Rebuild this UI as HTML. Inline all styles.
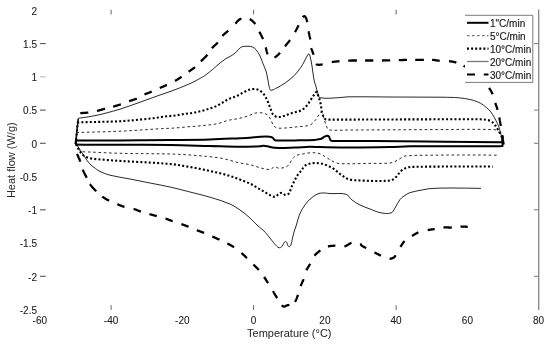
<!DOCTYPE html>
<html><head><meta charset="utf-8"><title>DSC heat flow</title>
<style>html,body{margin:0;padding:0;background:#fff;}body{width:550px;height:345px;overflow:hidden;}svg{display:block;}</style>
</head><body>
<svg width="550" height="345" viewBox="0 0 550 345">
<rect width="550" height="345" fill="#fff"/>
<path d="M75.70 144.00 C76.57 135.43 77.43 126.87 78.30 118.30 C82.20 117.73 86.12 117.26 90.00 116.60 C93.35 116.03 96.69 115.36 100.00 114.60 C103.36 113.83 106.67 112.90 110.00 112.00 C113.34 111.10 116.69 110.22 120.00 109.20 C123.36 108.16 126.68 106.96 130.00 105.80 C133.34 104.63 136.67 103.40 140.00 102.20 C143.33 101.00 146.67 99.80 150.00 98.60 C153.33 97.40 156.66 96.17 160.00 95.00 C163.32 93.84 166.69 92.79 170.00 91.60 C173.36 90.39 176.69 89.12 180.00 87.80 C183.36 86.46 186.69 85.06 190.00 83.60 C191.69 82.86 193.36 82.05 195.00 81.20 C196.69 80.32 198.34 79.35 200.00 78.40 C201.67 77.45 203.44 76.62 205.00 75.50 C207.95 73.38 210.72 71.03 213.50 68.70 C215.85 66.73 218.02 64.53 220.40 62.60 C222.09 61.23 223.86 59.96 225.70 58.80 C227.37 57.75 229.22 57.03 230.90 56.00 C232.39 55.09 233.88 54.15 235.20 53.00 C236.50 51.87 237.45 50.39 238.70 49.20 C239.56 48.38 240.42 47.50 241.50 47.00 C242.58 46.50 243.82 46.41 245.00 46.30 C246.33 46.18 247.67 46.18 249.00 46.30 C250.18 46.41 251.42 46.49 252.50 47.00 C253.81 47.62 255.07 48.48 256.00 49.60 C257.61 51.53 258.88 53.75 260.00 56.00 C261.26 58.53 262.06 61.27 263.10 63.90 C264.16 66.60 265.47 69.22 266.30 72.00 C267.07 74.57 267.38 77.26 267.90 79.90 C268.42 82.53 268.70 85.21 269.40 87.80 C269.64 88.68 269.80 90.08 270.70 90.20 C272.37 90.42 273.99 89.35 275.50 88.60 C278.81 86.94 282.07 85.13 285.10 83.00 C288.49 80.62 291.77 78.03 294.70 75.10 C297.10 72.70 299.04 69.87 301.00 67.10 C302.14 65.49 303.05 63.73 304.00 62.00 C305.38 59.49 306.48 56.83 308.00 54.40 C308.19 54.10 308.72 53.78 309.00 54.00 C309.58 54.47 309.82 55.28 310.00 56.00 C310.82 59.30 311.44 62.65 312.00 66.00 C312.77 70.65 313.12 75.37 314.00 80.00 C314.39 82.05 315.22 83.99 315.80 86.00 C316.48 88.36 316.99 90.78 317.80 93.10 C318.36 94.69 318.25 97.37 319.90 97.70 C326.47 99.03 333.30 97.81 340.00 97.60 C342.68 97.51 345.32 96.83 348.00 96.80 C362.00 96.63 376.00 96.94 390.00 97.00 C406.67 97.07 423.33 97.07 440.00 97.20 C444.83 97.24 449.67 97.25 454.50 97.50 C457.91 97.68 461.32 97.98 464.70 98.50 C467.63 98.95 470.56 99.55 473.40 100.40 C475.91 101.15 478.41 102.04 480.70 103.30 C482.81 104.46 484.67 106.04 486.50 107.60 C488.08 108.95 489.62 110.37 490.90 112.00 C492.30 113.79 493.37 115.82 494.50 117.80 C495.58 119.69 496.62 121.61 497.50 123.60 C498.33 125.48 498.97 127.44 499.60 129.40 C500.24 131.41 500.76 133.46 501.30 135.50 C501.69 136.99 502.08 138.49 502.40 140.00 C502.65 141.16 502.80 142.33 503.00 143.50" fill="none" stroke="#111" stroke-width="0.9" stroke-linejoin="round"/>
<path d="M76.00 144.00 C76.40 144.37 76.90 144.65 77.20 145.10 C78.31 146.73 79.14 148.53 80.20 150.20 C81.51 152.27 82.91 154.28 84.30 156.30 C85.94 158.68 87.35 161.26 89.30 163.40 C91.08 165.36 93.29 166.90 95.40 168.50 C96.86 169.60 98.34 170.74 100.00 171.50 C103.23 172.98 106.55 174.34 110.00 175.20 C116.58 176.85 123.34 177.70 130.00 179.00 C136.67 180.30 143.33 181.67 150.00 183.00 C156.67 184.33 163.37 185.51 170.00 187.00 C176.70 188.51 183.34 190.30 190.00 192.00 C196.67 193.70 203.40 195.22 210.00 197.20 C216.74 199.22 223.52 201.24 230.00 204.00 C233.58 205.53 236.82 207.77 240.00 210.00 C243.50 212.45 246.81 215.16 250.00 218.00 C252.82 220.51 255.23 223.44 258.00 226.00 C259.57 227.45 261.45 228.53 263.00 230.00 C264.83 231.74 266.48 233.66 268.10 235.60 C269.88 237.73 271.45 240.04 273.20 242.20 C274.32 243.58 275.39 245.00 276.70 246.20 C277.45 246.89 278.29 247.70 279.30 247.80 C280.21 247.89 281.16 247.35 281.80 246.70 C282.74 245.74 283.04 244.31 283.80 243.20 C284.25 242.54 284.61 241.53 285.40 241.40 C286.05 241.29 286.57 242.13 286.90 242.70 C287.43 243.61 287.34 244.81 287.90 245.70 C288.22 246.21 288.81 246.80 289.40 246.70 C290.10 246.58 290.66 245.87 290.90 245.20 C291.72 242.92 291.95 240.46 292.50 238.10 C292.98 236.06 293.40 234.01 294.00 232.00 C294.70 229.64 295.66 227.35 296.40 225.00 C297.43 221.72 298.08 218.31 299.30 215.10 C300.22 212.69 301.46 210.40 302.80 208.20 C304.17 205.96 305.65 203.76 307.40 201.80 C309.13 199.87 311.10 198.12 313.20 196.60 C314.99 195.30 316.89 194.05 319.00 193.40 C320.85 192.83 322.86 192.96 324.80 193.00 C326.54 193.03 328.26 193.50 330.00 193.60 C335.33 193.90 340.88 192.71 346.00 194.20 C348.67 194.98 349.80 198.30 352.00 200.00 C354.49 201.92 357.19 203.59 360.00 205.00 C363.21 206.61 366.64 207.72 370.00 209.00 C373.31 210.26 376.52 211.94 380.00 212.60 C383.60 213.29 387.49 214.08 391.00 213.00 C393.04 212.37 393.82 209.78 395.00 208.00 C396.82 205.26 398.03 202.13 400.00 199.50 C401.06 198.08 402.54 197.01 404.00 196.00 C405.89 194.69 407.82 193.33 410.00 192.60 C413.88 191.31 417.99 190.80 422.00 190.00 C424.65 189.47 427.30 188.79 430.00 188.60 C436.65 188.12 443.33 188.03 450.00 188.00 C460.33 187.96 470.67 188.27 481.00 188.40" fill="none" stroke="#111" stroke-width="0.9" stroke-linejoin="round"/>
<path d="M75.70 144.00 C76.23 140.17 76.77 136.33 77.30 132.50 C91.53 132.07 105.77 131.81 120.00 131.20 C130.01 130.77 140.00 130.02 150.00 129.40 C153.87 129.16 157.73 128.81 161.60 128.60 C165.00 128.41 168.40 128.40 171.80 128.20 C175.20 128.00 178.60 127.70 182.00 127.40 C183.94 127.23 185.86 126.97 187.80 126.80 C192.46 126.40 197.15 126.20 201.80 125.70 C207.15 125.13 212.53 124.67 217.80 123.60 C221.29 122.89 224.54 121.25 228.00 120.40 C231.35 119.58 234.81 119.27 238.20 118.60 C240.02 118.24 241.82 117.81 243.60 117.30 C245.46 116.77 247.29 116.16 249.10 115.50 C250.92 114.83 252.62 113.81 254.50 113.30 C256.12 112.86 257.82 112.68 259.50 112.70 C261.18 112.72 262.90 112.88 264.50 113.40 C265.85 113.83 267.21 114.48 268.20 115.50 C269.42 116.76 270.09 118.45 270.90 120.00 C271.75 121.62 272.22 123.45 273.20 125.00 C273.78 125.92 274.59 126.72 275.50 127.30 C276.30 127.81 277.25 128.17 278.20 128.20 C281.80 128.31 285.41 127.98 289.00 127.70 C292.68 127.41 296.33 126.84 300.00 126.50 C301.66 126.34 303.36 126.52 305.00 126.20 C307.12 125.78 309.33 125.39 311.20 124.30 C312.87 123.33 314.07 121.69 315.30 120.20 C316.61 118.61 317.55 116.74 318.80 115.10 C319.59 114.07 320.29 111.53 321.40 112.20 C323.25 113.33 323.17 116.16 323.90 118.20 C324.50 119.87 324.83 121.62 325.40 123.30 C325.86 124.66 326.39 126.00 327.00 127.30 C327.43 128.21 327.51 129.78 328.50 129.90 C335.62 130.74 342.83 130.02 350.00 130.00 C380.00 129.92 410.00 129.66 440.00 129.60 C458.33 129.56 476.68 128.95 495.00 129.70 C496.42 129.76 497.64 130.95 498.60 132.00 C499.83 133.35 500.72 135.01 501.40 136.70 C502.07 138.38 502.20 140.23 502.60 142.00" fill="none" stroke="#111" stroke-width="0.9" stroke-dasharray="2.6 2.7"/>
<path d="M76.00 144.00 C76.67 145.50 76.97 147.22 78.00 148.50 C79.04 149.80 80.40 151.03 82.00 151.50 C84.56 152.25 87.33 151.87 90.00 152.00 C100.00 152.47 109.99 153.05 120.00 153.30 C136.66 153.72 153.34 153.60 170.00 154.00 C176.67 154.16 183.35 154.47 190.00 155.00 C200.02 155.80 210.08 156.41 220.00 158.00 C226.79 159.09 233.29 161.50 240.00 163.00 C243.30 163.74 246.71 163.92 250.00 164.70 C253.09 165.43 256.05 166.62 259.10 167.50 C260.79 167.99 262.48 168.46 264.20 168.80 C265.88 169.13 267.59 169.61 269.30 169.50 C270.37 169.43 271.36 168.83 272.30 168.30 C273.04 167.88 273.45 166.73 274.30 166.70 C275.74 166.65 276.96 167.99 278.40 168.10 C280.44 168.26 282.53 168.06 284.50 167.50 C286.01 167.07 287.52 166.33 288.60 165.20 C289.97 163.78 290.52 161.75 291.60 160.10 C292.19 159.21 292.82 158.33 293.60 157.60 C294.54 156.72 295.51 155.79 296.70 155.30 C298.44 154.59 300.36 154.45 302.20 154.10 C304.79 153.61 307.37 152.95 310.00 152.80 C312.67 152.65 315.37 152.73 318.00 153.20 C319.56 153.48 320.99 154.28 322.40 155.00 C323.80 155.72 325.05 156.69 326.40 157.50 C328.92 159.02 331.31 160.80 334.00 162.00 C335.89 162.85 337.93 163.52 340.00 163.60 C349.99 163.99 360.00 163.52 370.00 163.40 C376.67 163.32 383.36 163.61 390.00 163.00 C392.10 162.81 394.08 161.87 396.00 161.00 C397.77 160.20 399.30 158.94 401.00 158.00 C402.30 157.28 403.52 156.14 405.00 156.00 C413.30 155.20 421.66 155.31 430.00 155.20 C446.67 154.98 463.33 155.00 480.00 155.00 C486.33 155.00 492.67 155.13 499.00 155.20" fill="none" stroke="#111" stroke-width="0.9" stroke-dasharray="2.6 2.7"/>
<path d="M75.70 144.00 C76.40 136.83 77.10 129.67 77.80 122.50 C78.53 122.43 79.26 122.32 80.00 122.30 C93.33 121.89 106.68 121.91 120.00 121.20 C130.39 120.64 140.75 119.56 151.10 118.50 C155.35 118.06 159.56 117.23 163.80 116.70 C167.79 116.20 171.81 115.94 175.80 115.40 C178.72 115.01 181.59 114.34 184.50 113.90 C187.29 113.48 190.12 113.28 192.90 112.80 C195.59 112.34 198.25 111.75 200.90 111.10 C203.66 110.42 206.41 109.69 209.10 108.80 C211.74 107.92 214.39 107.00 216.90 105.80 C219.43 104.59 221.78 103.02 224.20 101.60 C225.31 100.95 226.36 100.19 227.50 99.60 C228.80 98.92 230.14 98.33 231.50 97.80 C232.81 97.29 234.19 97.01 235.50 96.50 C236.76 96.01 238.00 95.43 239.20 94.80 C240.43 94.16 241.58 93.37 242.80 92.70 C244.02 92.03 245.24 91.37 246.50 90.80 C247.67 90.27 248.84 89.67 250.10 89.40 C251.54 89.09 253.03 89.01 254.50 89.10 C255.86 89.18 257.24 89.39 258.50 89.90 C259.68 90.38 260.74 91.15 261.70 92.00 C262.80 92.97 263.82 94.06 264.60 95.30 C265.93 97.42 267.00 99.70 268.00 102.00 C269.14 104.61 269.84 107.40 271.00 110.00 C271.85 111.91 272.35 114.22 274.00 115.50 C275.63 116.77 277.96 117.28 280.00 117.00 C284.18 116.42 287.98 114.26 292.00 113.00 C294.98 112.06 298.18 111.73 301.00 110.40 C303.00 109.46 304.71 107.93 306.20 106.30 C308.15 104.16 309.56 101.58 311.20 99.20 C312.59 97.18 313.80 95.03 315.30 93.10 C315.68 92.61 316.37 91.55 316.80 92.00 C317.83 93.07 317.80 94.80 318.30 96.20 C318.83 97.70 319.46 99.17 319.90 100.70 C320.33 102.21 320.62 103.76 320.90 105.30 C321.29 107.49 321.41 109.73 321.90 111.90 C322.25 113.44 322.72 114.97 323.40 116.40 C323.90 117.43 324.37 118.70 325.40 119.20 C326.78 119.87 328.46 119.60 330.00 119.60 C366.67 119.63 403.33 119.37 440.00 119.30 C453.33 119.27 466.67 119.13 480.00 119.30 C482.34 119.33 484.70 119.44 487.00 119.90 C488.60 120.22 490.22 120.72 491.60 121.60 C492.95 122.46 494.04 123.72 495.00 125.00 C496.39 126.84 497.40 128.93 498.60 130.90 C499.53 132.43 500.79 133.81 501.40 135.50 C502.15 137.57 502.20 139.83 502.60 142.00" fill="none" stroke="#000" stroke-width="2.1" stroke-dasharray="2 2.2"/>
<path d="M76.00 144.00 C77.00 146.00 77.79 148.12 79.00 150.00 C80.23 151.91 81.56 153.84 83.30 155.30 C84.73 156.50 86.54 157.19 88.30 157.80 C89.94 158.37 91.69 158.55 93.40 158.80 C95.09 159.05 96.80 159.15 98.50 159.30 C100.87 159.51 103.23 159.72 105.60 159.90 C110.33 160.26 115.06 160.60 119.80 160.90 C136.53 161.97 153.30 162.55 170.00 164.00 C176.72 164.58 183.36 165.84 190.00 167.00 C196.70 168.17 203.37 169.51 210.00 171.00 C216.70 172.51 223.45 173.94 230.00 176.00 C236.80 178.14 243.45 180.77 250.00 183.60 C252.51 184.68 254.73 186.35 257.10 187.70 C259.46 189.05 261.84 190.35 264.20 191.70 C266.57 193.05 268.81 194.67 271.30 195.80 C272.58 196.38 274.02 197.09 275.40 196.80 C276.67 196.53 277.29 194.97 278.40 194.30 C279.51 193.63 280.71 192.67 282.00 192.80 C283.37 192.94 284.13 194.90 285.50 195.00 C286.82 195.09 288.18 194.26 289.10 193.30 C290.00 192.36 290.12 190.91 290.60 189.70 C291.12 188.38 291.54 187.01 292.10 185.70 C292.70 184.30 293.39 182.95 294.10 181.60 C295.26 179.38 296.35 177.11 297.70 175.00 C298.56 173.66 299.69 172.52 300.70 171.30 C302.45 169.19 303.59 166.31 306.00 165.00 C308.99 163.38 312.60 163.00 316.00 163.00 C319.40 163.00 322.78 163.93 326.00 165.00 C328.83 165.94 331.49 167.39 334.00 169.00 C336.19 170.41 337.88 172.49 340.00 174.00 C342.56 175.83 345.07 177.85 348.00 179.00 C350.51 179.99 353.30 180.20 356.00 180.30 C367.33 180.73 378.70 181.53 390.00 180.60 C392.32 180.41 394.24 178.53 396.00 177.00 C397.96 175.29 399.06 172.74 401.00 171.00 C402.44 169.70 404.18 168.68 406.00 168.00 C407.91 167.29 409.97 166.94 412.00 166.90 C434.66 166.44 457.33 166.58 480.00 166.50 C484.27 166.48 488.53 166.57 492.80 166.60" fill="none" stroke="#000" stroke-width="2.1" stroke-dasharray="2 2.2"/>
<path d="M80.30 113.18 L80.30 113.18 L80.60 113.15 L80.90 113.13 L81.20 113.11 L81.50 113.08 L81.80 113.06 L82.10 113.04 L82.40 113.02 L82.70 113.00 L83.00 112.98 L83.30 112.96 L83.60 112.94 L83.91 112.92 L84.21 112.90 L84.51 112.88 L84.81 112.85 L85.11 112.83 L85.41 112.81 L85.71 112.78 L86.01 112.75 L86.31 112.73 L86.61 112.70 L86.91 112.67 L87.20 112.63 L87.50 112.60 L87.80 112.56 L88.10 112.53 L88.30 112.50 M97.00 110.90 L97.00 110.90 L97.30 110.83 L97.59 110.76 L97.89 110.69 L98.18 110.62 L98.47 110.54 L98.77 110.46 L99.06 110.38 L99.35 110.30 L99.65 110.22 L99.94 110.14 L100.23 110.06 L100.52 109.98 L100.81 109.89 L101.11 109.81 L101.40 109.72 L101.69 109.64 L101.98 109.55 L102.27 109.47 L102.56 109.38 L102.86 109.30 L103.15 109.21 L103.44 109.13 L103.73 109.05 L104.02 108.97 L104.32 108.89 L104.61 108.80 L104.90 108.73 L105.00 108.70 M113.20 106.60 L113.20 106.60 L113.49 106.52 L113.78 106.44 L114.07 106.36 L114.36 106.28 L114.65 106.20 L114.94 106.11 L115.23 106.03 L115.52 105.95 L115.81 105.87 L116.10 105.79 L116.39 105.70 L116.68 105.62 L116.97 105.53 L117.26 105.45 L117.55 105.36 L117.84 105.28 L118.13 105.19 L118.41 105.10 L118.70 105.01 L118.99 104.92 L119.28 104.83 L119.56 104.74 L119.85 104.65 L120.14 104.55 L120.42 104.46 L120.71 104.36 L120.90 104.30 M129.10 101.20 L129.10 101.20 L129.38 101.10 L129.67 101.00 L129.95 100.90 L130.24 100.80 L130.53 100.70 L130.81 100.61 L131.10 100.51 L131.39 100.42 L131.68 100.33 L131.97 100.23 L132.25 100.14 L132.54 100.05 L132.83 99.95 L133.12 99.86 L133.40 99.77 L133.69 99.67 L133.98 99.57 L134.26 99.48 L134.55 99.38 L134.83 99.27 L135.12 99.17 L135.40 99.07 L135.68 98.96 L135.96 98.85 L136.24 98.73 L136.52 98.62 L136.80 98.50 L136.80 98.50 M144.50 94.50 L144.50 94.50 L144.77 94.37 L145.05 94.25 L145.32 94.13 L145.60 94.02 L145.88 93.90 L146.16 93.79 L146.44 93.68 L146.72 93.57 L147.00 93.46 L147.29 93.36 L147.57 93.25 L147.85 93.14 L148.13 93.04 L148.41 92.93 L148.70 92.82 L148.98 92.72 L149.26 92.61 L149.54 92.49 L149.81 92.38 L150.09 92.26 L150.37 92.14 L150.64 92.03 L150.92 91.91 L151.20 91.79 L151.47 91.67 L151.75 91.55 L151.75 91.55 M159.80 88.00 L159.80 88.00 L160.08 87.88 L160.35 87.76 L160.63 87.64 L160.91 87.52 L161.19 87.40 L161.46 87.28 L161.74 87.16 L162.02 87.04 L162.30 86.93 L162.57 86.81 L162.85 86.69 L163.13 86.57 L163.41 86.45 L163.68 86.33 L163.96 86.21 L164.24 86.09 L164.51 85.97 L164.79 85.85 L165.07 85.73 L165.34 85.61 L165.62 85.49 L165.89 85.36 L166.17 85.24 L166.44 85.11 L166.72 84.98 L166.90 84.90 M175.00 80.90 L175.00 80.90 L175.26 80.75 L175.53 80.61 L175.79 80.46 L176.05 80.31 L176.32 80.15 L176.58 80.00 L176.84 79.85 L177.10 79.69 L177.36 79.53 L177.62 79.38 L177.87 79.22 L178.13 79.06 L178.39 78.90 L178.65 78.74 L178.90 78.58 L179.16 78.41 L179.41 78.25 L179.67 78.08 L179.92 77.92 L180.17 77.75 L180.43 77.59 L180.68 77.42 L180.93 77.25 L181.18 77.08 L181.43 76.91 L181.60 76.80 M188.60 71.70 L188.60 71.70 L188.85 71.52 L189.09 71.35 L189.34 71.18 L189.59 71.01 L189.84 70.83 L190.09 70.66 L190.34 70.50 L190.59 70.33 L190.84 70.16 L191.09 69.99 L191.34 69.82 L191.59 69.65 L191.84 69.48 L192.09 69.31 L192.33 69.14 L192.58 68.97 L192.83 68.79 L193.07 68.62 L193.32 68.44 L193.56 68.26 L193.80 68.08 L194.04 67.89 L194.28 67.71 L194.51 67.52 L194.75 67.33 L194.90 67.20 M200.90 61.30 L200.90 61.30 L201.12 61.09 L201.33 60.88 L201.55 60.66 L201.77 60.45 L201.99 60.24 L202.21 60.03 L202.43 59.82 L202.65 59.62 L202.87 59.41 L203.09 59.20 L203.31 58.99 L203.53 58.78 L203.75 58.57 L203.97 58.36 L204.19 58.15 L204.41 57.94 L204.62 57.73 L204.84 57.52 L205.06 57.31 L205.27 57.09 L205.48 56.88 L205.70 56.66 L205.91 56.44 L206.12 56.23 L206.32 56.01 L206.53 55.78 L206.73 55.56 L206.94 55.33 L207.14 55.11 L207.33 54.88 L207.40 54.80 M211.90 48.30 L211.90 48.30 L212.10 48.07 L212.30 47.85 L212.50 47.62 L212.71 47.40 L212.91 47.19 L213.13 46.97 L213.34 46.76 L213.56 46.55 L213.78 46.34 L214.00 46.13 L214.22 45.93 L214.44 45.72 L214.66 45.52 L214.88 45.31 L215.11 45.11 L215.33 44.90 L215.55 44.70 L215.77 44.49 L215.99 44.28 L216.21 44.08 L216.43 43.86 L216.64 43.65 L216.85 43.44 L217.06 43.22 L217.27 43.00 L217.47 42.78 L217.67 42.55 L217.80 42.40 M222.40 35.90 L222.40 35.90 L222.60 35.68 L222.81 35.45 L223.02 35.24 L223.24 35.02 L223.46 34.81 L223.68 34.61 L223.90 34.40 L224.13 34.20 L224.35 34.00 L224.58 33.80 L224.82 33.60 L225.05 33.41 L225.28 33.21 L225.52 33.02 L225.75 32.82 L225.98 32.63 L226.22 32.43 L226.45 32.24 L226.69 32.04 L226.92 31.85 L227.15 31.65 L227.38 31.45 L227.60 31.25 L227.83 31.05 L228.05 30.84 L228.20 30.70 M235.30 23.60 L235.30 23.60 L235.51 23.39 L235.72 23.17 L235.93 22.95 L236.13 22.72 L236.34 22.49 L236.54 22.26 L236.74 22.03 L236.94 21.81 L237.15 21.58 L237.35 21.35 L237.56 21.13 L237.77 20.91 L237.98 20.70 L238.20 20.49 L238.42 20.29 L238.65 20.09 L238.88 19.90 L239.12 19.73 L239.37 19.56 L239.63 19.40 L239.89 19.25 L240.16 19.12 L240.44 19.00 L240.73 18.89 L241.02 18.79 L241.31 18.71 L241.41 18.68 M249.80 19.10 L249.80 19.10 L250.06 19.25 L250.32 19.41 L250.57 19.57 L250.83 19.74 L251.07 19.91 L251.32 20.09 L251.56 20.27 L251.80 20.46 L252.04 20.65 L252.27 20.84 L252.50 21.04 L252.72 21.25 L252.95 21.45 L253.17 21.66 L253.38 21.88 L253.60 22.10 L253.81 22.32 L254.01 22.54 L254.21 22.77 L254.41 23.00 L254.61 23.23 L254.80 23.47 L254.99 23.70 L255.18 23.94 L255.30 24.10 M259.40 31.80 L259.40 31.80 L259.54 32.07 L259.68 32.34 L259.82 32.60 L259.96 32.87 L260.10 33.14 L260.24 33.41 L260.38 33.67 L260.52 33.94 L260.66 34.21 L260.80 34.47 L260.94 34.74 L261.07 35.01 L261.21 35.28 L261.35 35.55 L261.49 35.82 L261.62 36.09 L261.76 36.36 L261.89 36.63 L262.02 36.90 L262.15 37.17 L262.28 37.44 L262.40 37.72 L262.53 37.99 L262.65 38.27 L262.77 38.54 L262.89 38.82 L263.00 39.10 L263.00 39.10 M265.70 47.30 L265.70 47.30 L265.79 47.59 L265.87 47.88 L265.95 48.18 L266.02 48.47 L266.10 48.76 L266.17 49.06 L266.24 49.36 L266.31 49.65 L266.38 49.95 L266.44 50.25 L266.51 50.54 L266.58 50.84 L266.65 51.14 L266.72 51.43 L266.80 51.73 L266.88 52.02 L266.96 52.31 L267.04 52.60 L267.13 52.89 L267.23 53.18 L267.32 53.46 L267.43 53.75 L267.54 54.03 L267.66 54.31 L267.70 54.40 M274.40 57.60 L274.40 57.60 L274.66 57.45 L274.92 57.30 L275.18 57.13 L275.43 56.97 L275.68 56.80 L275.93 56.62 L276.17 56.44 L276.41 56.25 L276.64 56.06 L276.88 55.86 L277.11 55.66 L277.34 55.46 L277.56 55.26 L277.79 55.05 L278.01 54.84 L278.23 54.62 L278.45 54.41 L278.66 54.19 L278.88 53.97 L279.09 53.75 L279.30 53.53 L279.51 53.31 L279.72 53.09 L279.93 52.87 L280.00 52.80 M285.00 46.40 L285.00 46.40 L285.19 46.16 L285.37 45.93 L285.56 45.69 L285.75 45.46 L285.94 45.22 L286.12 44.99 L286.31 44.75 L286.50 44.52 L286.69 44.29 L286.88 44.05 L287.07 43.82 L287.26 43.58 L287.45 43.35 L287.64 43.11 L287.83 42.88 L288.01 42.64 L288.20 42.41 L288.38 42.17 L288.57 41.93 L288.75 41.70 L288.94 41.46 L289.12 41.22 L289.30 40.98 L289.47 40.73 L289.65 40.49 L289.83 40.25 L290.00 40.00 L290.00 40.00 M295.00 32.10 L295.00 32.10 L295.15 31.84 L295.30 31.57 L295.45 31.31 L295.60 31.05 L295.75 30.78 L295.90 30.51 L296.04 30.25 L296.18 29.98 L296.33 29.71 L296.47 29.44 L296.61 29.17 L296.75 28.91 L296.89 28.64 L297.03 28.37 L297.17 28.10 L297.31 27.83 L297.45 27.56 L297.59 27.28 L297.73 27.01 L297.86 26.74 L298.00 26.47 L298.14 26.20 L298.28 25.93 L298.42 25.66 L298.55 25.39 L298.60 25.30 M302.70 17.10 L302.70 17.10 L302.92 16.86 L303.21 16.64 L303.53 16.45 L303.88 16.32 L304.23 16.26 L304.56 16.27 L304.84 16.37 L305.07 16.57 L305.26 16.81 L305.44 17.05 L305.61 17.29 L305.77 17.55 L305.92 17.81 L306.05 18.08 L306.18 18.36 L306.30 18.64 L306.41 18.93 L306.52 19.22 L306.61 19.51 L306.71 19.81 L306.79 20.11 L306.88 20.41 L306.96 20.71 L307.03 21.01 L307.11 21.31 L307.18 21.61 L307.25 21.90 L307.30 22.10 M308.60 31.20 L308.60 31.20 L308.65 31.50 L308.71 31.80 L308.76 32.09 L308.82 32.39 L308.88 32.69 L308.94 32.98 L309.01 33.28 L309.07 33.57 L309.13 33.87 L309.20 34.17 L309.26 34.46 L309.33 34.76 L309.40 35.05 L309.46 35.35 L309.53 35.64 L309.59 35.94 L309.66 36.23 L309.72 36.53 L309.79 36.83 L309.85 37.12 L309.91 37.42 L309.97 37.71 L310.03 38.01 L310.09 38.31 L310.15 38.61 L310.20 38.90 L310.25 39.20 L310.30 39.50 L310.30 39.50 M311.30 48.00 L311.30 48.00 L311.37 48.30 L311.44 48.59 L311.52 48.88 L311.61 49.17 L311.70 49.46 L311.80 49.75 L311.90 50.03 L312.00 50.32 L312.10 50.60 L312.21 50.89 L312.32 51.17 L312.43 51.46 L312.54 51.74 L312.65 52.02 L312.76 52.31 L312.87 52.59 L312.98 52.88 L313.08 53.16 L313.19 53.45 L313.28 53.73 L313.38 54.02 L313.46 54.31 L313.55 54.60 L313.60 54.80 M315.92 64.03 L315.92 64.03 L316.15 64.22 L316.41 64.36 L316.69 64.47 L316.98 64.55 L317.28 64.63 L317.57 64.68 L317.87 64.73 L318.18 64.76 L318.48 64.78 L318.79 64.79 L319.10 64.80 L319.41 64.79 L319.72 64.77 L320.03 64.75 L320.34 64.72 L320.65 64.69 L320.96 64.65 L321.27 64.61 L321.58 64.57 L321.89 64.52 L322.19 64.48 L322.50 64.43 L322.70 64.40 M331.80 62.10 L331.80 62.10 L332.10 62.04 L332.39 61.99 L332.69 61.94 L332.99 61.89 L333.29 61.85 L333.59 61.81 L333.89 61.76 L334.19 61.73 L334.49 61.69 L334.79 61.65 L335.09 61.62 L335.39 61.58 L335.69 61.55 L335.99 61.52 L336.29 61.49 L336.59 61.46 L336.89 61.43 L337.19 61.41 L337.49 61.38 L337.79 61.35 L338.10 61.33 L338.40 61.30 L338.70 61.27 L339.00 61.25 L339.30 61.22 L339.50 61.20 M348.20 60.60 L348.20 60.60 L348.50 60.59 L348.80 60.58 L349.10 60.57 L349.40 60.56 L349.70 60.55 L350.00 60.54 L350.30 60.54 L350.60 60.53 L350.90 60.53 L351.20 60.52 L351.50 60.52 L351.80 60.52 L352.10 60.51 L352.40 60.51 L352.70 60.51 L353.00 60.51 L353.30 60.51 L353.60 60.51 L353.90 60.51 L354.20 60.50 L354.50 60.50 L354.80 60.50 L355.10 60.50 L355.40 60.50 L355.70 60.50 L356.00 60.50 L356.30 60.50 L356.60 60.50 L356.90 60.50 L356.90 60.50 M365.10 60.50 L365.10 60.50 L365.40 60.50 L365.70 60.50 L366.00 60.50 L366.30 60.50 L366.60 60.50 L366.90 60.50 L367.20 60.50 L367.50 60.50 L367.80 60.50 L368.10 60.50 L368.40 60.50 L368.70 60.50 L369.00 60.50 L369.30 60.50 L369.60 60.50 L369.90 60.50 L370.20 60.50 L370.50 60.50 L370.80 60.50 L371.10 60.50 L371.40 60.50 L371.70 60.50 L372.00 60.50 L372.30 60.50 L372.60 60.50 L372.90 60.50 L373.20 60.50 L373.30 60.50 M382.00 60.48 L382.00 60.48 L382.30 60.48 L382.60 60.48 L382.90 60.48 L383.20 60.47 L383.50 60.47 L383.80 60.47 L384.10 60.47 L384.40 60.47 L384.70 60.46 L385.00 60.46 L385.30 60.46 L385.60 60.46 L385.90 60.45 L386.20 60.45 L386.50 60.45 L386.80 60.45 L387.10 60.44 L387.40 60.44 L387.70 60.43 L388.00 60.43 L388.30 60.43 L388.60 60.42 L388.90 60.42 L389.20 60.41 L389.50 60.41 L389.80 60.40 L390.10 60.40 L390.20 60.40 M398.80 60.14 L398.80 60.14 L399.10 60.13 L399.40 60.12 L399.70 60.11 L400.00 60.10 L400.30 60.09 L400.60 60.08 L400.90 60.07 L401.20 60.06 L401.50 60.05 L401.80 60.04 L402.10 60.03 L402.40 60.02 L402.70 60.01 L403.00 60.00 L403.30 59.99 L403.60 59.98 L403.90 59.97 L404.20 59.96 L404.50 59.96 L404.80 59.95 L405.10 59.94 L405.40 59.93 L405.70 59.93 L406.00 59.92 L406.30 59.91 L406.60 59.91 L406.90 59.90 L407.00 59.90 M415.20 59.82 L415.20 59.82 L415.50 59.82 L415.80 59.82 L416.10 59.82 L416.40 59.82 L416.70 59.82 L417.00 59.82 L417.30 59.82 L417.60 59.82 L417.90 59.81 L418.20 59.81 L418.50 59.81 L418.80 59.81 L419.10 59.81 L419.40 59.81 L419.70 59.81 L420.00 59.81 L420.30 59.81 L420.60 59.81 L420.90 59.81 L421.20 59.81 L421.50 59.81 L421.80 59.81 L422.10 59.81 L422.40 59.81 L422.70 59.80 L423.00 59.80 L423.30 59.80 L423.60 59.80 L423.90 59.80 L423.90 59.80 M432.10 59.80 L432.10 59.80 L432.40 59.82 L432.70 59.85 L433.00 59.88 L433.30 59.91 L433.61 59.94 L433.91 59.98 L434.21 60.02 L434.50 60.06 L434.80 60.11 L435.10 60.15 L435.40 60.20 L435.70 60.25 L436.00 60.30 L436.30 60.35 L436.60 60.39 L436.90 60.44 L437.20 60.49 L437.50 60.53 L437.80 60.58 L438.10 60.62 L438.40 60.66 L438.70 60.70 L439.00 60.73 L439.30 60.76 L439.60 60.79 L439.70 60.80 M449.00 61.20 L449.00 61.20 L449.30 61.23 L449.60 61.26 L449.90 61.30 L450.20 61.33 L450.50 61.37 L450.80 61.41 L451.10 61.45 L451.40 61.49 L451.69 61.53 L451.99 61.58 L452.29 61.63 L452.59 61.68 L452.88 61.73 L453.18 61.79 L453.48 61.85 L453.77 61.91 L454.07 61.97 L454.36 62.04 L454.65 62.11 L454.94 62.19 L455.23 62.27 L455.52 62.35 L455.81 62.44 L456.10 62.53 L456.38 62.63 L456.38 62.63 M463.52 65.69 L463.52 65.69 L463.79 65.83 L464.05 65.96 L464.32 66.11 L464.59 66.25 L464.85 66.39 L465.12 66.53 L465.38 66.68 L465.64 66.83 L465.90 66.98 L466.16 67.13 L466.42 67.28 L466.68 67.43 L466.93 67.59 L467.19 67.74 L467.45 67.90 L467.70 68.06 L467.95 68.22 L468.21 68.39 L468.46 68.55 L468.71 68.71 L468.96 68.88 L469.21 69.05 L469.46 69.21 L469.71 69.38 L469.96 69.55 L470.21 69.72 L470.45 69.89 L470.45 69.89 M489.10 87.90 L489.10 87.90 L489.26 88.16 L489.41 88.41 L489.57 88.67 L489.73 88.93 L489.89 89.18 L490.04 89.44 L490.20 89.70 L490.36 89.95 L490.51 90.21 L490.67 90.47 L490.82 90.73 L490.97 90.99 L491.12 91.25 L491.27 91.51 L491.42 91.77 L491.56 92.04 L491.70 92.30 L491.84 92.57 L491.98 92.84 L492.11 93.11 L492.24 93.38 L492.36 93.65 L492.48 93.92 L492.60 94.20 L492.60 94.20 M495.30 102.90 L495.30 102.90 L495.39 103.19 L495.49 103.48 L495.58 103.76 L495.68 104.05 L495.78 104.34 L495.88 104.62 L495.97 104.91 L496.07 105.20 L496.17 105.48 L496.27 105.77 L496.37 106.05 L496.47 106.34 L496.57 106.63 L496.67 106.91 L496.77 107.20 L496.86 107.49 L496.96 107.78 L497.05 108.06 L497.14 108.35 L497.23 108.64 L497.32 108.93 L497.41 109.22 L497.49 109.51 L497.57 109.80 L497.60 109.90 M499.30 117.50 L499.30 117.50 L499.36 117.80 L499.42 118.10 L499.48 118.39 L499.54 118.69 L499.60 118.98 L499.65 119.28 L499.71 119.57 L499.77 119.87 L499.82 120.16 L499.88 120.46 L499.93 120.75 L499.99 121.05 L500.04 121.34 L500.09 121.64 L500.15 121.94 L500.20 122.23 L500.25 122.53 L500.30 122.82 L500.36 123.12 L500.41 123.42 L500.46 123.71 L500.51 124.01 L500.57 124.30 L500.62 124.60 L500.67 124.90 L500.72 125.20 L500.78 125.50 L500.83 125.80 L500.86 126.00 M502.31 135.20 L502.31 135.20 L502.35 135.50 L502.39 135.80 L502.43 136.10 L502.47 136.40 L502.51 136.70 L502.56 137.00 L502.60 137.30 L502.64 137.60 L502.69 137.90 L502.73 138.20 L502.77 138.50 L502.82 138.80 L502.86 139.10 L502.90 139.40 L502.95 139.70 L502.99 140.00 L503.04 140.30 L503.08 140.60 L503.12 140.90 L503.17 141.20 L503.21 141.50 L503.26 141.80 L503.30 142.10 L503.35 142.40 L503.39 142.70 L503.43 143.00 L503.48 143.30 L503.52 143.60 L503.57 143.90 L503.61 144.20 L503.66 144.50 L503.67 144.60" fill="none" stroke="#000" stroke-width="2.3" stroke-linecap="butt" stroke-linejoin="round"/>
<path d="M77.20 153.80 L77.20 153.80 L77.28 154.09 L77.37 154.38 L77.47 154.66 L77.56 154.94 L77.67 155.23 L77.77 155.51 L77.88 155.79 L77.99 156.07 L78.11 156.35 L78.23 156.62 L78.35 156.90 L78.47 157.17 L78.59 157.45 L78.71 157.73 L78.84 158.00 L78.96 158.27 L79.09 158.55 L79.21 158.82 L79.33 159.10 L79.46 159.37 L79.58 159.65 L79.70 159.93 L79.82 160.20 L79.93 160.48 L80.05 160.76 L80.16 161.04 L80.26 161.32 L80.37 161.61 L80.40 161.70 M82.80 169.70 L82.80 169.70 L82.91 169.98 L83.03 170.26 L83.14 170.53 L83.26 170.81 L83.38 171.08 L83.51 171.35 L83.63 171.63 L83.76 171.90 L83.89 172.17 L84.02 172.44 L84.15 172.71 L84.28 172.98 L84.42 173.25 L84.55 173.51 L84.69 173.78 L84.83 174.05 L84.96 174.32 L85.10 174.58 L85.24 174.85 L85.38 175.12 L85.52 175.38 L85.66 175.65 L85.79 175.92 L85.93 176.18 L86.07 176.45 L86.21 176.72 L86.34 176.98 L86.48 177.25 L86.61 177.52 L86.70 177.70 M89.94 184.16 L89.96 184.18 L90.13 184.43 L90.31 184.67 L90.49 184.91 L90.68 185.15 L90.86 185.39 L91.05 185.62 L91.24 185.86 L91.43 186.09 L91.62 186.32 L91.81 186.55 L92.01 186.78 L92.21 187.01 L92.41 187.23 L92.61 187.46 L92.81 187.68 L93.01 187.90 L93.22 188.12 L93.42 188.35 L93.63 188.57 L93.84 188.78 L94.05 189.00 L94.26 189.22 L94.47 189.44 L94.68 189.65 L94.89 189.87 L95.10 190.09 L95.31 190.30 L95.52 190.52 L95.73 190.73 L95.95 190.94 L96.16 191.16 L96.25 191.25 M102.30 196.60 L102.30 196.60 L102.54 196.78 L102.79 196.95 L103.04 197.13 L103.28 197.30 L103.53 197.47 L103.78 197.64 L104.04 197.80 L104.29 197.97 L104.54 198.13 L104.80 198.29 L105.06 198.45 L105.31 198.61 L105.57 198.76 L105.83 198.92 L106.09 199.07 L106.35 199.22 L106.62 199.37 L106.88 199.52 L107.14 199.67 L107.41 199.81 L107.67 199.96 L107.94 200.10 L108.21 200.24 L108.47 200.38 L108.74 200.52 L109.01 200.65 L109.10 200.70 M117.30 204.20 L117.30 204.20 L117.58 204.31 L117.86 204.43 L118.14 204.54 L118.43 204.66 L118.71 204.77 L118.99 204.89 L119.27 205.00 L119.55 205.12 L119.83 205.23 L120.11 205.34 L120.40 205.46 L120.68 205.57 L120.96 205.68 L121.25 205.79 L121.53 205.90 L121.81 206.00 L122.10 206.11 L122.38 206.21 L122.67 206.31 L122.96 206.41 L123.24 206.51 L123.53 206.60 L123.82 206.70 L124.11 206.79 L124.40 206.87 L124.50 206.90 M133.60 208.90 L133.60 208.90 L133.89 208.99 L134.18 209.08 L134.47 209.17 L134.76 209.26 L135.04 209.36 L135.33 209.47 L135.61 209.57 L135.90 209.68 L136.18 209.79 L136.46 209.90 L136.74 210.01 L137.03 210.12 L137.31 210.23 L137.59 210.35 L137.87 210.46 L138.15 210.57 L138.44 210.69 L138.72 210.80 L139.00 210.91 L139.28 211.02 L139.57 211.13 L139.85 211.23 L140.14 211.34 L140.42 211.44 L140.71 211.54 L140.90 211.60 M149.40 214.10 L149.40 214.10 L149.69 214.18 L149.98 214.26 L150.27 214.34 L150.57 214.42 L150.86 214.50 L151.15 214.58 L151.44 214.66 L151.73 214.74 L152.03 214.82 L152.32 214.90 L152.61 214.97 L152.90 215.05 L153.20 215.13 L153.49 215.21 L153.78 215.28 L154.07 215.36 L154.37 215.44 L154.66 215.52 L154.95 215.60 L155.24 215.67 L155.54 215.75 L155.83 215.83 L156.12 215.91 L156.41 215.99 L156.70 216.07 L156.80 216.10 M165.50 218.60 L165.50 218.60 L165.79 218.69 L166.07 218.79 L166.36 218.88 L166.65 218.98 L166.93 219.08 L167.22 219.18 L167.50 219.29 L167.78 219.39 L168.07 219.49 L168.35 219.60 L168.64 219.70 L168.92 219.81 L169.20 219.91 L169.48 220.02 L169.77 220.13 L170.05 220.23 L170.33 220.34 L170.62 220.45 L170.90 220.55 L171.18 220.66 L171.47 220.76 L171.75 220.86 L172.03 220.97 L172.32 221.07 L172.60 221.17 L172.70 221.20 M181.40 224.10 L181.40 224.10 L181.69 224.20 L181.97 224.30 L182.26 224.40 L182.54 224.51 L182.83 224.61 L183.11 224.71 L183.40 224.82 L183.68 224.92 L183.97 225.03 L184.25 225.13 L184.54 225.24 L184.82 225.34 L185.11 225.45 L185.39 225.56 L185.68 225.67 L185.96 225.77 L186.24 225.88 L186.53 225.99 L186.81 226.10 L187.09 226.21 L187.38 226.32 L187.66 226.43 L187.94 226.54 L188.22 226.65 L188.51 226.76 L188.60 226.80 M196.80 230.20 L196.80 230.20 L197.08 230.31 L197.37 230.42 L197.65 230.53 L197.93 230.63 L198.22 230.74 L198.50 230.84 L198.79 230.95 L199.07 231.05 L199.36 231.15 L199.64 231.25 L199.93 231.35 L200.22 231.46 L200.50 231.56 L200.79 231.66 L201.07 231.76 L201.36 231.86 L201.64 231.97 L201.93 232.07 L202.21 232.17 L202.50 232.28 L202.78 232.39 L203.07 232.49 L203.35 232.60 L203.63 232.71 L203.91 232.82 L204.10 232.90 M212.30 236.50 L212.30 236.50 L212.58 236.62 L212.85 236.74 L213.13 236.87 L213.41 236.99 L213.69 237.11 L213.96 237.23 L214.24 237.35 L214.52 237.48 L214.80 237.60 L215.07 237.72 L215.35 237.84 L215.63 237.96 L215.91 238.09 L216.18 238.21 L216.46 238.33 L216.74 238.45 L217.01 238.58 L217.29 238.70 L217.57 238.82 L217.84 238.95 L218.12 239.07 L218.40 239.20 L218.67 239.32 L218.95 239.45 L219.22 239.57 L219.50 239.70 L219.50 239.70 M227.30 243.40 L227.30 243.40 L227.57 243.54 L227.83 243.68 L228.10 243.82 L228.37 243.96 L228.64 244.10 L228.90 244.24 L229.17 244.38 L229.43 244.53 L229.70 244.67 L229.97 244.81 L230.23 244.96 L230.49 245.11 L230.76 245.25 L231.02 245.40 L231.28 245.55 L231.54 245.70 L231.80 245.86 L232.06 246.01 L232.32 246.16 L232.58 246.32 L232.84 246.48 L233.09 246.64 L233.34 246.80 L233.60 246.97 L233.85 247.13 L234.10 247.30 L234.10 247.30 M241.50 253.00 L241.50 253.00 L241.73 253.20 L241.96 253.39 L242.19 253.59 L242.41 253.80 L242.64 254.00 L242.86 254.20 L243.08 254.41 L243.31 254.61 L243.53 254.82 L243.75 255.03 L243.97 255.24 L244.18 255.45 L244.40 255.66 L244.62 255.87 L244.84 256.08 L245.05 256.29 L245.27 256.51 L245.48 256.72 L245.70 256.93 L245.92 257.14 L246.13 257.35 L246.35 257.57 L246.57 257.78 L246.78 257.99 L247.00 258.20 L247.00 258.20 M253.40 264.50 L253.40 264.50 L253.61 264.71 L253.83 264.92 L254.04 265.13 L254.26 265.34 L254.47 265.55 L254.69 265.76 L254.90 265.97 L255.12 266.18 L255.33 266.39 L255.55 266.60 L255.76 266.81 L255.98 267.02 L256.19 267.23 L256.40 267.45 L256.62 267.66 L256.83 267.87 L257.04 268.09 L257.25 268.30 L257.46 268.52 L257.66 268.74 L257.87 268.96 L258.07 269.18 L258.27 269.40 L258.47 269.62 L258.67 269.85 L258.80 270.00 M264.10 277.00 L264.10 277.00 L264.28 277.25 L264.45 277.50 L264.62 277.75 L264.80 278.00 L264.97 278.25 L265.14 278.50 L265.31 278.75 L265.48 279.00 L265.64 279.26 L265.81 279.51 L265.98 279.77 L266.14 280.02 L266.31 280.28 L266.47 280.53 L266.64 280.79 L266.80 281.04 L266.97 281.30 L267.13 281.56 L267.29 281.81 L267.45 282.07 L267.62 282.33 L267.78 282.59 L267.94 282.84 L268.10 283.10 L268.10 283.10 M273.00 291.20 L273.00 291.20 L273.16 291.46 L273.31 291.72 L273.47 291.98 L273.63 292.24 L273.78 292.50 L273.94 292.76 L274.10 293.02 L274.25 293.27 L274.41 293.53 L274.56 293.79 L274.72 294.05 L274.88 294.31 L275.03 294.57 L275.19 294.83 L275.35 295.09 L275.50 295.35 L275.66 295.61 L275.82 295.87 L275.98 296.13 L276.14 296.38 L276.29 296.64 L276.45 296.90 L276.61 297.16 L276.77 297.42 L276.93 297.67 L277.09 297.93 L277.20 298.10 M281.80 305.20 L281.80 305.20 L282.01 305.43 L282.23 305.65 L282.48 305.86 L282.74 306.05 L283.01 306.21 L283.30 306.36 L283.59 306.47 L283.89 306.55 L284.20 306.59 L284.50 306.59 L284.79 306.54 L285.07 306.43 L285.35 306.29 L285.62 306.13 L285.89 305.95 L286.16 305.78 L286.43 305.61 L286.71 305.47 L287.00 305.37 L287.29 305.29 L287.59 305.22 L287.89 305.17 L288.19 305.12 L288.50 305.07 L288.80 305.02 L289.10 304.97 L289.40 304.90 L289.40 304.90 M295.00 301.90 L295.00 301.90 L295.15 301.64 L295.30 301.38 L295.44 301.12 L295.58 300.85 L295.72 300.58 L295.85 300.31 L295.98 300.04 L296.10 299.77 L296.23 299.49 L296.35 299.22 L296.46 298.94 L296.58 298.66 L296.69 298.38 L296.80 298.10 L296.91 297.82 L297.01 297.54 L297.12 297.26 L297.22 296.97 L297.33 296.69 L297.43 296.41 L297.53 296.12 L297.63 295.84 L297.73 295.56 L297.83 295.27 L297.93 294.99 L298.00 294.80 M300.60 286.20 L300.60 286.20 L300.70 285.92 L300.81 285.64 L300.92 285.36 L301.03 285.08 L301.14 284.80 L301.26 284.52 L301.38 284.25 L301.50 283.97 L301.62 283.70 L301.74 283.42 L301.87 283.15 L301.99 282.88 L302.12 282.60 L302.24 282.33 L302.36 282.06 L302.49 281.78 L302.61 281.51 L302.73 281.23 L302.85 280.96 L302.97 280.68 L303.09 280.40 L303.20 280.13 L303.32 279.85 L303.42 279.57 L303.53 279.29 L303.60 279.10 M306.40 270.20 L306.40 270.20 L306.52 269.92 L306.65 269.65 L306.78 269.38 L306.92 269.11 L307.07 268.85 L307.21 268.59 L307.36 268.33 L307.52 268.07 L307.68 267.81 L307.84 267.55 L308.00 267.30 L308.16 267.04 L308.32 266.79 L308.49 266.54 L308.66 266.28 L308.82 266.03 L308.99 265.77 L309.15 265.52 L309.32 265.27 L309.48 265.01 L309.64 264.75 L309.79 264.50 L309.95 264.24 L310.10 263.98 L310.20 263.80 M314.50 255.70 L314.50 255.70 L314.69 255.46 L314.88 255.23 L315.07 254.99 L315.27 254.77 L315.48 254.55 L315.69 254.33 L315.90 254.11 L316.12 253.90 L316.34 253.69 L316.57 253.49 L316.79 253.28 L317.02 253.08 L317.25 252.88 L317.49 252.69 L317.72 252.49 L317.96 252.30 L318.19 252.10 L318.43 251.91 L318.67 251.72 L318.91 251.53 L319.15 251.33 L319.38 251.14 L319.62 250.95 L319.86 250.76 L320.09 250.56 L320.32 250.37 L320.40 250.30 M327.90 246.40 L327.90 246.40 L328.20 246.35 L328.50 246.30 L328.79 246.26 L329.09 246.21 L329.39 246.17 L329.69 246.13 L329.99 246.09 L330.29 246.05 L330.59 246.01 L330.89 245.98 L331.19 245.94 L331.49 245.91 L331.79 245.88 L332.09 245.85 L332.39 245.83 L332.69 245.80 L332.99 245.78 L333.29 245.76 L333.59 245.75 L333.89 245.73 L334.19 245.72 L334.50 245.71 L334.80 245.71 L335.10 245.70 L335.40 245.70 L335.40 245.70 M344.40 246.50 L344.40 246.50 L344.69 246.41 L344.97 246.30 L345.25 246.19 L345.53 246.07 L345.80 245.95 L346.07 245.82 L346.34 245.68 L346.61 245.53 L346.87 245.39 L347.13 245.23 L347.40 245.08 L347.66 244.92 L347.92 244.77 L348.18 244.61 L348.44 244.45 L348.70 244.29 L348.96 244.14 L349.23 243.98 L349.49 243.83 L349.76 243.69 L350.03 243.55 L350.30 243.41 L350.57 243.28 L350.84 243.16 L351.12 243.04 L351.41 242.93 L351.50 242.90 M360.20 243.70 L360.20 243.70 L360.45 243.87 L360.66 244.08 L360.84 244.33 L361.00 244.61 L361.16 244.89 L361.32 245.16 L361.51 245.42 L361.72 245.64 L361.96 245.82 L362.21 245.99 L362.46 246.15 L362.72 246.31 L362.98 246.46 L363.24 246.60 L363.51 246.75 L363.77 246.88 L364.04 247.02 L364.31 247.16 L364.58 247.29 L364.85 247.42 L365.12 247.56 L365.40 247.69 L365.67 247.82 L365.93 247.96 L366.20 248.10 L366.20 248.10 M374.40 252.40 L374.40 252.40 L374.67 252.54 L374.94 252.68 L375.21 252.82 L375.48 252.96 L375.75 253.10 L376.02 253.24 L376.29 253.38 L376.56 253.52 L376.83 253.66 L377.10 253.80 L377.37 253.93 L377.64 254.07 L377.91 254.21 L378.18 254.35 L378.45 254.49 L378.72 254.62 L378.99 254.76 L379.26 254.90 L379.54 255.03 L379.81 255.17 L380.08 255.30 L380.35 255.44 L380.63 255.57 L380.90 255.70 L380.90 255.70 M389.60 258.80 L389.60 258.80 L389.90 258.79 L390.20 258.76 L390.50 258.73 L390.80 258.68 L391.10 258.61 L391.39 258.54 L391.69 258.45 L391.98 258.36 L392.27 258.25 L392.55 258.14 L392.83 258.01 L393.11 257.88 L393.38 257.75 L393.65 257.60 L393.91 257.45 L394.17 257.29 L394.39 257.09 L394.59 256.87 L394.77 256.63 L394.94 256.37 L395.09 256.10 L395.24 255.83 L395.39 255.55 L395.55 255.29 L395.60 255.20 M400.40 246.90 L400.40 246.90 L400.56 246.65 L400.73 246.40 L400.89 246.15 L401.06 245.89 L401.22 245.64 L401.39 245.39 L401.55 245.14 L401.72 244.89 L401.88 244.64 L402.05 244.39 L402.22 244.14 L402.39 243.89 L402.56 243.64 L402.73 243.40 L402.91 243.15 L403.08 242.91 L403.26 242.67 L403.44 242.43 L403.62 242.19 L403.80 241.95 L403.99 241.72 L404.18 241.48 L404.37 241.25 L404.50 241.10 M412.00 235.90 L412.00 235.90 L412.27 235.75 L412.53 235.61 L412.80 235.45 L413.06 235.30 L413.32 235.14 L413.58 234.99 L413.84 234.83 L414.10 234.67 L414.36 234.51 L414.63 234.35 L414.89 234.19 L415.15 234.03 L415.41 233.88 L415.67 233.72 L415.94 233.57 L416.20 233.43 L416.47 233.28 L416.74 233.14 L417.01 233.00 L417.28 232.87 L417.56 232.75 L417.84 232.62 L418.12 232.51 L418.40 232.40 L418.40 232.40 M427.70 230.10 L427.70 230.10 L428.00 230.04 L428.30 229.98 L428.59 229.93 L428.89 229.87 L429.19 229.82 L429.49 229.77 L429.79 229.72 L430.09 229.68 L430.39 229.63 L430.69 229.59 L430.99 229.54 L431.29 229.50 L431.59 229.46 L431.90 229.41 L432.20 229.37 L432.50 229.33 L432.80 229.29 L433.10 229.24 L433.40 229.20 L433.70 229.16 L434.00 229.11 L434.30 229.06 L434.60 229.02 L434.70 229.00 M443.50 227.50 L443.50 227.50 L443.80 227.48 L444.10 227.46 L444.40 227.44 L444.70 227.43 L445.00 227.42 L445.30 227.42 L445.60 227.42 L445.90 227.42 L446.20 227.42 L446.50 227.43 L446.80 227.44 L447.10 227.45 L447.40 227.46 L447.70 227.47 L448.00 227.48 L448.30 227.49 L448.60 227.50 L448.90 227.51 L449.20 227.52 L449.50 227.52 L449.80 227.53 L450.10 227.53 L450.40 227.53 L450.70 227.53 L451.00 227.53 L451.30 227.52 L451.60 227.51 L451.80 227.50 M460.50 226.60 L460.50 226.60 L460.80 226.59 L461.10 226.58 L461.40 226.58 L461.70 226.57 L462.00 226.57 L462.30 226.58 L462.60 226.58 L462.90 226.59 L463.20 226.60 L463.50 226.61 L463.80 226.62 L464.10 226.64 L464.40 226.65 L464.70 226.66 L465.00 226.68 L465.30 226.70 L465.60 226.71 L465.90 226.73 L466.20 226.74 L466.50 226.75 L466.80 226.77 L467.10 226.78 L467.40 226.79 L467.70 226.80 L467.70 226.80" fill="none" stroke="#000" stroke-width="2.3" stroke-linecap="butt" stroke-linejoin="round"/>
<path d="M78.2 119 L77 129 L76.1 138 L75.8 145" fill="none" stroke="#111" stroke-width="1.4"/>
<path d="M75.70 144.00 C75.77 142.87 75.83 141.73 75.90 140.60 C83.93 140.60 91.97 140.64 100.00 140.60 C113.33 140.54 126.67 140.41 140.00 140.30 C150.00 140.21 160.00 140.13 170.00 140.00 C183.33 139.83 196.67 139.74 210.00 139.40 C220.00 139.14 230.00 138.62 240.00 138.20 C243.33 138.06 246.67 137.93 250.00 137.70 C253.34 137.47 256.66 136.97 260.00 136.80 C263.13 136.64 266.27 136.47 269.40 136.70 C270.48 136.78 271.58 137.12 272.50 137.70 C273.50 138.32 273.88 139.84 275.00 140.20 C276.91 140.81 279.00 140.38 281.00 140.40 C285.67 140.45 290.33 140.45 295.00 140.40 C301.67 140.32 308.34 140.30 315.00 140.00 C315.79 139.96 316.52 139.56 317.30 139.40 C318.66 139.12 320.10 139.19 321.40 138.70 C322.52 138.27 323.34 137.27 324.40 136.70 C325.22 136.26 326.07 135.70 327.00 135.70 C327.75 135.70 328.54 136.11 329.00 136.70 C329.78 137.70 329.76 139.17 330.50 140.20 C330.82 140.65 331.45 140.88 332.00 140.90 C338.00 141.15 344.00 140.97 350.00 141.00 C366.67 141.07 383.33 141.06 400.00 141.20 C415.00 141.33 430.00 141.63 445.00 141.80 C463.33 142.00 481.67 142.14 500.00 142.30 C500.67 142.31 501.33 142.30 502.00 142.30" fill="none" stroke="#000" stroke-width="2" stroke-linejoin="round"/>
<path d="M75.70 144.60 C80.47 144.63 85.23 144.68 90.00 144.70 C100.00 144.75 110.00 144.76 120.00 144.80 C136.67 144.86 153.33 144.78 170.00 145.00 C183.34 145.18 196.67 145.66 210.00 146.00 C220.00 146.26 230.00 146.74 240.00 146.80 C246.67 146.84 253.34 146.59 260.00 146.30 C261.11 146.25 262.19 145.80 263.30 145.80 C264.68 145.80 266.04 146.06 267.40 146.30 C269.78 146.73 272.08 147.69 274.50 147.80 C281.33 148.10 288.17 147.69 295.00 147.50 C300.00 147.36 305.00 146.88 310.00 146.80 C313.33 146.75 316.67 147.04 320.00 147.10 C330.00 147.27 340.00 147.51 350.00 147.50 C363.33 147.48 376.67 147.27 390.00 147.00 C396.67 146.87 403.33 146.39 410.00 146.30 C420.00 146.16 430.00 146.31 440.00 146.30 C460.00 146.28 480.00 146.30 500.00 146.20 C500.84 146.20 501.67 146.07 502.50 146.00 C502.53 142.67 502.57 139.33 502.60 136.00" fill="none" stroke="#000" stroke-width="2" stroke-linejoin="round"/>
<line x1="538.7" y1="9.6" x2="538.7" y2="310" stroke="#858585" stroke-width="1.3"/>
<line x1="534" y1="43.6" x2="538.7" y2="43.6" stroke="#858585" stroke-width="1.1"/>
<line x1="534" y1="110.1" x2="538.7" y2="110.1" stroke="#858585" stroke-width="1.1"/>
<line x1="534" y1="143.3" x2="538.7" y2="143.3" stroke="#858585" stroke-width="1.1"/>
<line x1="534" y1="209.8" x2="538.7" y2="209.8" stroke="#858585" stroke-width="1.1"/>
<line x1="534" y1="276.3" x2="538.7" y2="276.3" stroke="#858585" stroke-width="1.1"/>
<line x1="40" y1="43.6" x2="45.7" y2="43.6" stroke="#555" stroke-width="1.1"/>
<line x1="40" y1="76.8" x2="45.7" y2="76.8" stroke="#bbb" stroke-width="1.1"/>
<line x1="40" y1="110.1" x2="45.7" y2="110.1" stroke="#555" stroke-width="1.1"/>
<line x1="40" y1="143.3" x2="45.7" y2="143.3" stroke="#555" stroke-width="1.1"/>
<line x1="40" y1="209.8" x2="45.7" y2="209.8" stroke="#555" stroke-width="1.1"/>
<line x1="40" y1="276.3" x2="45.7" y2="276.3" stroke="#555" stroke-width="1.1"/>
<line x1="111.1" y1="9.8" x2="111.1" y2="14.5" stroke="#666" stroke-width="1"/>
<line x1="111.1" y1="305.2" x2="111.1" y2="310" stroke="#666" stroke-width="1"/>
<line x1="253.6" y1="9.8" x2="253.6" y2="14.5" stroke="#666" stroke-width="1"/>
<line x1="253.6" y1="305.2" x2="253.6" y2="310" stroke="#666" stroke-width="1"/>
<line x1="396.1" y1="9.8" x2="396.1" y2="14.5" stroke="#666" stroke-width="1"/>
<line x1="396.1" y1="305.2" x2="396.1" y2="310" stroke="#666" stroke-width="1"/>
<text x="37" y="14.6" font-family="Liberation Sans, Arial, sans-serif" stroke="#222" stroke-width="0.08" font-size="10" text-anchor="end" fill="#1a1a1a">2</text>
<text x="37" y="47.9" font-family="Liberation Sans, Arial, sans-serif" stroke="#222" stroke-width="0.08" font-size="10" text-anchor="end" fill="#1a1a1a">1.5</text>
<text x="37" y="81.1" font-family="Liberation Sans, Arial, sans-serif" stroke="#222" stroke-width="0.08" font-size="10" text-anchor="end" fill="#1a1a1a">1</text>
<text x="37" y="114.4" font-family="Liberation Sans, Arial, sans-serif" stroke="#222" stroke-width="0.08" font-size="10" text-anchor="end" fill="#1a1a1a">0.5</text>
<text x="37" y="147.6" font-family="Liberation Sans, Arial, sans-serif" stroke="#222" stroke-width="0.08" font-size="10" text-anchor="end" fill="#1a1a1a">0</text>
<text x="37" y="180.9" font-family="Liberation Sans, Arial, sans-serif" stroke="#222" stroke-width="0.08" font-size="10" text-anchor="end" fill="#1a1a1a">-0.5</text>
<text x="37" y="214.1" font-family="Liberation Sans, Arial, sans-serif" stroke="#222" stroke-width="0.08" font-size="10" text-anchor="end" fill="#1a1a1a">-1</text>
<text x="37" y="247.4" font-family="Liberation Sans, Arial, sans-serif" stroke="#222" stroke-width="0.08" font-size="10" text-anchor="end" fill="#1a1a1a">-1.5</text>
<text x="37" y="280.6" font-family="Liberation Sans, Arial, sans-serif" stroke="#222" stroke-width="0.08" font-size="10" text-anchor="end" fill="#1a1a1a">-2</text>
<text x="37" y="313.9" font-family="Liberation Sans, Arial, sans-serif" stroke="#222" stroke-width="0.08" font-size="10" text-anchor="end" fill="#1a1a1a">-2.5</text>
<text x="39.8" y="324.3" font-family="Liberation Sans, Arial, sans-serif" stroke="#222" stroke-width="0.08" font-size="10" text-anchor="middle" fill="#1a1a1a">-60</text>
<text x="111.1" y="324.3" font-family="Liberation Sans, Arial, sans-serif" stroke="#222" stroke-width="0.08" font-size="10" text-anchor="middle" fill="#1a1a1a">-40</text>
<text x="182.3" y="324.3" font-family="Liberation Sans, Arial, sans-serif" stroke="#222" stroke-width="0.08" font-size="10" text-anchor="middle" fill="#1a1a1a">-20</text>
<text x="253.6" y="324.3" font-family="Liberation Sans, Arial, sans-serif" stroke="#222" stroke-width="0.08" font-size="10" text-anchor="middle" fill="#1a1a1a">0</text>
<text x="324.9" y="324.3" font-family="Liberation Sans, Arial, sans-serif" stroke="#222" stroke-width="0.08" font-size="10" text-anchor="middle" fill="#1a1a1a">20</text>
<text x="396.1" y="324.3" font-family="Liberation Sans, Arial, sans-serif" stroke="#222" stroke-width="0.08" font-size="10" text-anchor="middle" fill="#1a1a1a">40</text>
<text x="467.4" y="324.3" font-family="Liberation Sans, Arial, sans-serif" stroke="#222" stroke-width="0.08" font-size="10" text-anchor="middle" fill="#1a1a1a">60</text>
<text x="538.6" y="324.3" font-family="Liberation Sans, Arial, sans-serif" stroke="#222" stroke-width="0.08" font-size="10" text-anchor="middle" fill="#1a1a1a">80</text>
<text x="289.3" y="337.4" font-family="Liberation Sans, Arial, sans-serif" font-size="11" text-anchor="middle" fill="#222">Temperature (°C)</text>
<text transform="translate(15 160.2) rotate(-90)" x="0" y="0" font-family="Liberation Sans, Arial, sans-serif" font-size="11" text-anchor="middle" fill="#2a2a2a">Heat flow (W/g)</text>
<rect x="465" y="15.3" width="68" height="67.1" fill="#fff"/>
<path d="M465 15.3 H532.8 V82.4 H465" fill="none" stroke="#7a7a7a" stroke-width="1"/>
<path d="M467 22.8 H488.5" fill="none" stroke="#000" stroke-width="2"/>
<text x="490" y="27.2" font-family="Liberation Sans, Arial, sans-serif" stroke="#1a1a1a" stroke-width="0.15" font-size="10" fill="#1a1a1a">1"C/min</text>
<path d="M467 35.7 H488.5" fill="none" stroke="#444" stroke-width="0.9" stroke-dasharray="2.6 2.4"/>
<text x="490" y="40.1" font-family="Liberation Sans, Arial, sans-serif" stroke="#1a1a1a" stroke-width="0.15" font-size="10" fill="#1a1a1a">5°C/min</text>
<path d="M467 48.6 H488.5" fill="none" stroke="#000" stroke-width="2.3" stroke-dasharray="2 2.1"/>
<text x="490" y="53.0" font-family="Liberation Sans, Arial, sans-serif" stroke="#1a1a1a" stroke-width="0.15" font-size="10" fill="#1a1a1a">10°C/min</text>
<path d="M467 61.5 H488.5" fill="none" stroke="#777" stroke-width="1.3"/>
<text x="490" y="65.9" font-family="Liberation Sans, Arial, sans-serif" stroke="#1a1a1a" stroke-width="0.15" font-size="10" fill="#1a1a1a">20°C/min</text>
<path d="M467 74.4 H475 M483.8 74.4 H488.5" fill="none" stroke="#000" stroke-width="2"/>
<text x="490" y="78.8" font-family="Liberation Sans, Arial, sans-serif" stroke="#1a1a1a" stroke-width="0.15" font-size="10" fill="#1a1a1a">30°C/min</text>
</svg>
</body></html>
